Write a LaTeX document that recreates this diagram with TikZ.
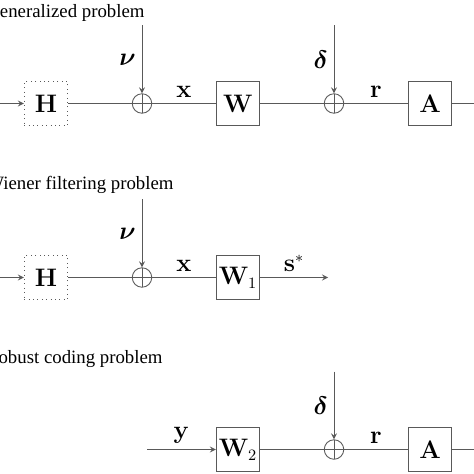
\documentclass[tikz,border=0pt]{standalone}
\usepackage{amsmath,amssymb}
\usepackage[no-math]{fontspec}
\newfontfamily\titlefont{Liberation Serif}
\usetikzlibrary{positioning}

\begin{document}
\begin{tikzpicture}[node distance=1.92cm,on grid,>=stealth,black!65,line width=0.5pt,
    blk/.style={draw,minimum size=0.87cm,inner sep=0pt,text=black,font=\fontsize{13.5}{16}\selectfont},
    dblk/.style={blk,dotted},
    sum/.style={circle,draw,minimum size=0.39cm,inner sep=0pt,
      path picture={\draw (path picture bounding box.north) -- (path picture bounding box.south)
        (path picture bounding box.west) -- (path picture bounding box.east);}},
    lbl/.style={font=\fontsize{13.5}{16}\selectfont,text=black},
    ttl/.style={anchor=base east,inner sep=0pt,font=\titlefont\fontsize{10.7}{13}\selectfont,text=black}]
    \useasboundingbox (0,0) rectangle (9.48,-9.48);

    % generalized problem
    \node[ttl] (t1) at (2.9,-0.36) {Generalized problem};
    \node[dblk] (H1) at (0.92,-2.07) {$\mathbf{H}$};
    \node[sum] (s1) [right=of H1] {};
    \node[blk] (W) [right=of s1] {$\mathbf{W}$};
    \node[sum] (s2) [right=of W] {};
    \node[blk] (A1) [right=of s2] {$\mathbf{A}$};
    \coordinate (i1) at (0,-2.07);
    \coordinate (o1) at (9.48,-2.07);
    \coordinate[above=1.56cm of s1] (n1);
    \coordinate[above=1.56cm of s2] (d1);
    \draw[->] (i1) -- (H1);
    \draw (H1) -- (s1);
    \draw (s1) -- node[lbl,above] {$\mathbf{x}$} (W);
    \draw (W) -- (s2);
    \draw (s2) -- node[lbl,above] {$\mathbf{r}$} (A1);
    \draw (A1) -- (o1);
    \draw[->] (n1) -- node[lbl,left] {$\boldsymbol{\nu}$} (s1);
    \draw[->] (d1) -- node[lbl,left] {$\boldsymbol{\delta}$} (s2);

    % wiener filtering problem
    \node[ttl] (t2) at (3.48,-3.8) {Wiener filtering problem};
    \node[dblk] (H2) at (0.92,-5.55) {$\mathbf{H}$};
    \node[sum] (s3) [right=of H2] {};
    \node[blk] (W1) [right=of s3] {$\mathbf{W}_1$};
    \coordinate (i2) at (0,-5.55);
    \coordinate[right=1.8cm of W1] (o2);
    \coordinate[above=1.56cm of s3] (n2);
    \draw[->] (i2) -- (H2);
    \draw (H2) -- (s3);
    \draw (s3) -- node[lbl,above] {$\mathbf{x}$} (W1);
    \draw[->] (W1) -- node[lbl,above] {$\mathbf{s}^*$} (o2);
    \draw[->] (n2) -- node[lbl,left] {$\boldsymbol{\nu}$} (s3);

    % robust coding problem
    \node[ttl] (t3) at (3.26,-7.26) {Robust coding problem};
    \node[blk] (W2) at (4.76,-8.99) {$\mathbf{W}_2$};
    \node[sum] (s4) [right=of W2] {};
    \node[blk] (A2) [right=of s4] {$\mathbf{A}$};
    \coordinate[left=1.82cm of W2] (i3);
    \coordinate (o3) at (9.48,-8.99);
    \coordinate[above=1.56cm of s4] (d2);
    \draw[->] (i3) -- node[lbl,above] {$\mathbf{y}$} (W2);
    \draw (W2) -- (s4);
    \draw (s4) -- node[lbl,above] {$\mathbf{r}$} (A2);
    \draw (A2) -- (o3);
    \draw[->] (d2) -- node[lbl,left] {$\boldsymbol{\delta}$} (s4);
\end{tikzpicture}
\end{document}
